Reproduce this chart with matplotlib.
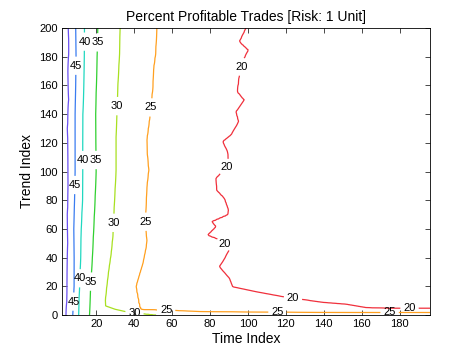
import numpy as np
import matplotlib
matplotlib.use('Agg')
import matplotlib.pyplot as plt
from matplotlib.path import Path

plt.rcParams['font.family'] = ['Liberation Sans', 'DejaVu Sans']

# ---------------- text ----------------
title = 'Percent Profitable Trades [Risk: 1 Unit]'
x_label = 'Time Index'
y_label = 'Trend Index'
x_ticks = [20, 40, 60, 80, 100, 120, 140, 160, 180]
y_ticks = [0, 20, 40, 60, 80, 100, 120, 140, 160, 180, 200]
x_range = (2, 196)
y_range = (0, 200)

# ---------------- contour levels ----------------
levels = [20, 25, 30, 35, 40, 45, 50]
level_colors = ['#f0303c', '#ffa020', '#a8e020', '#30d030', '#20d8c0', '#3a7cf0', '#6a50f0']
labelled_levels = [20, 25, 30, 35, 40, 45]

# ---------------- contour traces (Time Index, Trend Index) ----------------
c50_x = [5.4, 5.6, 5.2, 5.5, 4.9, 5.2, 5.3, 4.9, 5.0, 4.8, 4.7, 4.2]
c50_y = [200, 185, 170, 150, 130, 110, 90, 70, 50, 30, 15, 0]

c45_x = [9.2, 9.4, 9.2, 8.9, 8.9, 8.9, 8.6, 8.2, 8.4, 8.4, 7.7]
c45_y = [200, 180, 160, 140, 120, 100, 80, 60, 40, 20, 0]

c40_x = [13.8, 13.7, 13.5, 13.0, 12.9, 12.9, 12.8, 12.1, 11.8, 11.2, 10.7]
c40_y = [200, 180, 160, 140, 120, 100, 80, 60, 40, 20, 0]

c35_x = [20.8, 20.5, 20.1, 19.7, 19.8, 20.0, 19.4, 18.7, 18.0, 17.1, 16.5]
c35_y = [200, 180, 160, 140, 120, 100, 80, 60, 40, 20, 0]

c30_x = [32.6, 32.3, 31.4, 30.5, 30.5, 29.6, 28.8, 27.9, 26.6, 25.6, 24.8, 25.0, 30.0, 35.8, 44.0, 51.6]
c30_y = [200, 182, 159, 124, 101, 78, 55, 43, 31, 20, 10, 6.3, 4.0, 2.3, 1.0, 0]

c25_x = [52.0, 51.3, 50.2, 49.9, 48.8, 48.1, 46.7, 46.9, 47.7, 46.7, 46.4, 45.8, 46.7, 46.4, 44.6,
         41.4, 41.0, 42.5, 42.9, 43.7, 60.0, 75.0, 120.0, 196.0]
c25_y = [200, 182, 171, 159, 145, 136, 122, 113, 101, 89, 78, 65, 52, 47.6, 36,
         22, 19.7, 8.4, 5.8, 3.8, 3.2, 2.4, 2.0, 1.8]

c20_x = [99.1, 95.6, 100.3, 97.2, 95.6, 94.5, 98.2, 93.8, 95.2, 91.2, 86.8, 89.4, 89.9,
         83.3, 83.6, 87.7, 89.9, 89.4, 81.2, 83.3, 78.9, 85.9, 90.7, 86.8, 85.0, 90.3,
         92.0, 104.4, 120.2, 139.5, 151.8, 162.4, 174.7, 196.0]
c20_y = [200, 190.5, 184.7, 176.5, 167.2, 155.6, 149.8, 141.7, 134.7, 125.4, 120.8, 113.8, 104.5,
         95.3, 87.1, 81.3, 73.2, 69.7, 65.0, 61.5, 55.7, 52.3, 46.5, 37.1, 33.7, 25.6,
         19.7, 16.2, 12.3, 8.8, 7.5, 5.1, 4.7, 4.7]

# label anchor points (Time Index, Trend Index)
label_x = [9.4, 8.5, 8.5, 13.4, 12.9, 11.2, 20.8, 19.5, 18.2, 30.5, 28.4, 40.2,
           48.5, 44.3, 56.9, 115.6, 174.7, 96.5, 89.4, 88.6, 123.7, 185.2]
label_y = [173.7, 90.6, 9.3, 190.5, 108, 25.6, 190, 108, 23.2, 145.6, 64.3, 1.3,
           144.7, 65, 3.5, 2.3, 2.3, 173, 102.2, 50.6, 10.9, 4.7]

traces = [(c20_x, c20_y), (c25_x, c25_y), (c30_x, c30_y), (c35_x, c35_y),
          (c40_x, c40_y), (c45_x, c45_y), (c50_x, c50_y)]

# ---------------- build a field whose level sets follow the traces ----------------
sx, sy = 1.9, 1.435  # pixel scale per unit, for distance weighting
xg = np.arange(x_range[0], x_range[1] + 0.001, 0.5)
yg = np.concatenate([np.arange(0, 10, 0.25), np.arange(10, 200.001, 1.0)])
XX, YY = np.meshgrid(xg, yg)
P = np.column_stack([XX.ravel(), YY.ravel()])


def poly_dist(pts, xs, ys):
    xs = np.asarray(xs, float) * sx
    ys = np.asarray(ys, float) * sy
    px = pts[:, 0:1] * sx
    py = pts[:, 1:2] * sy
    ax_, ay = xs[:-1], ys[:-1]
    dx, dy = xs[1:] - ax_, ys[1:] - ay
    L2 = dx * dx + dy * dy
    out = np.empty(len(pts))
    step = 20000
    for i in range(0, len(pts), step):
        qx = px[i:i + step]
        qy = py[i:i + step]
        t = np.clip(((qx - ax_) * dx + (qy - ay) * dy) / L2, 0, 1)
        d = np.hypot(qx - (ax_ + t * dx), qy - (ay + t * dy))
        out[i:i + step] = d.min(axis=1)
    return out


inside = []
dists = []
for xs, ys in traces:
    verts = list(zip(xs, ys))
    if ys[-1] <= 0.001:
        verts += [(xs[-1], -100), (-100, -100), (-100, 300), (xs[0], 300)]
    else:
        verts += [(300, ys[-1]), (300, -100), (-100, -100), (-100, 300), (xs[0], 300)]
    inside.append(Path(verts).contains_points(P))
    dists.append(poly_dist(P, xs, ys))

inside = np.array(inside)
dists = np.array(dists)
count = inside.sum(axis=0)
Z = np.empty(len(P))
nl = len(levels)
for c in range(nl + 1):
    m = count == c
    if not m.any():
        continue
    if c == 0:
        d0 = dists[0, m]
        Z[m] = levels[0] - 5 * d0 / (d0 + 20)
    elif c == nl:
        d0 = dists[-1, m]
        Z[m] = levels[-1] + 5 * d0 / (d0 + 20)
    else:
        k = c - 1
        da = dists[k, m]
        db = dists[k + 1, m]
        Z[m] = levels[k] + (levels[k + 1] - levels[k]) * da / (da + db + 1e-9)
Z = Z.reshape(XX.shape)

# ---------------- plot ----------------
fig = plt.figure(figsize=(4.74, 3.55), dpi=100)
ax = fig.add_axes([62 / 474, 1 - 315 / 355, 368 / 474, 287 / 355])
cs = ax.contour(xg, yg, Z, levels=levels, colors=level_colors, linewidths=0.9)
texts = ax.clabel(cs, levels=labelled_levels, manual=list(zip(label_x, label_y)), inline=True,
                  inline_spacing=3, fmt='%d', fontsize=8, colors='k')
for t in cs.labelTexts:
    t.set_rotation(0)

ax.set_xlim(*x_range)
ax.set_ylim(*y_range)
ax.set_xticks(x_ticks)
ax.set_yticks(y_ticks)
ax.tick_params(direction='in', length=3.5, width=0.5, labelsize=8, top=True, right=True, pad=3)
for s in ax.spines.values():
    s.set_linewidth(0.6)
ax.set_title(title, fontsize=10, pad=5)
ax.set_xlabel(x_label, fontsize=10, labelpad=2)
ax.set_ylabel(y_label, fontsize=10, labelpad=4)

fig.savefig('out.png', dpi=100)
